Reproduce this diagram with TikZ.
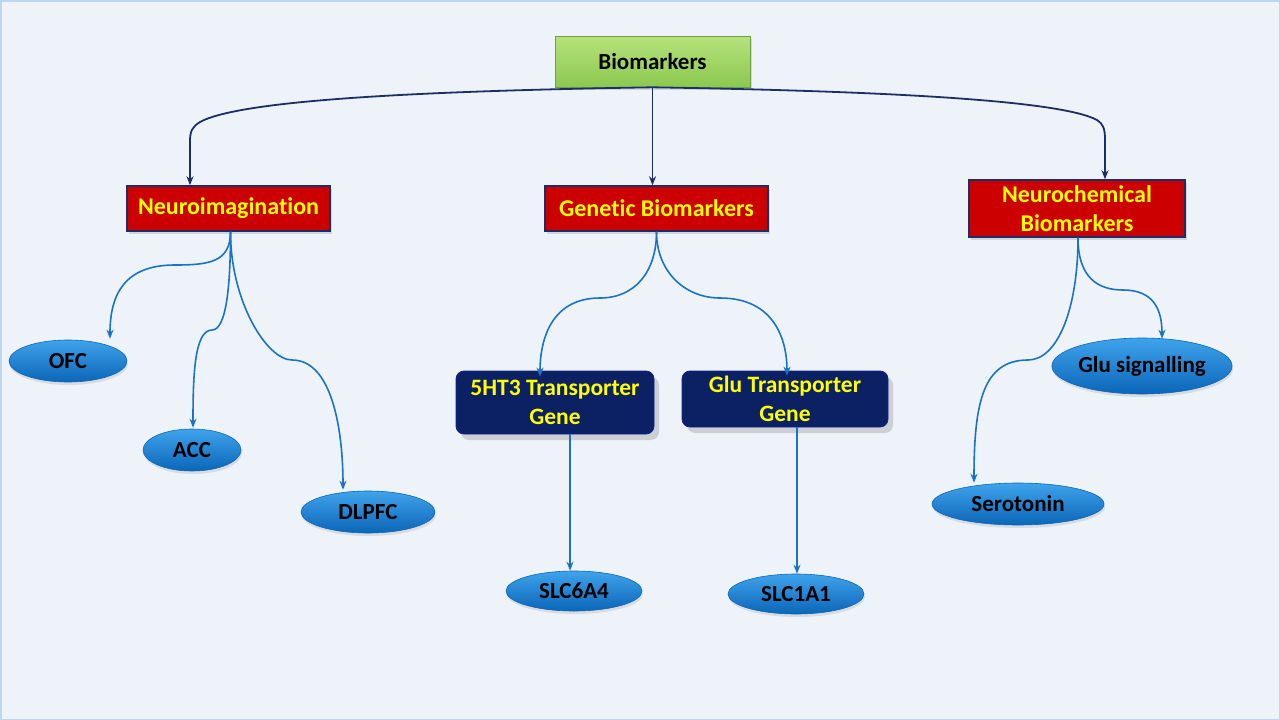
\documentclass[tikz,border=0pt]{standalone}
\usepackage{fontspec}
\setmainfont{Carlito}[Ligatures=NoCommon]
\usetikzlibrary{arrows.meta,shadows,shapes.geometric}
\definecolor{bgc}{HTML}{EEF3FA}
\definecolor{bgborder}{HTML}{BCD6F0}
\definecolor{navyline}{HTML}{1B2F66}
\definecolor{blueline}{HTML}{1A73C4}
\definecolor{redfill}{HTML}{CC0000}
\definecolor{navyfill}{HTML}{0B2163}
\definecolor{yel}{HTML}{FFFF00}
\definecolor{greentop}{HTML}{B6E27C}
\definecolor{greenbot}{HTML}{8CC850}
\definecolor{elltop}{HTML}{3FA3EC}
\definecolor{ellbot}{HTML}{0B66B8}
\tikzset{
  rootbox/.style={draw=greenbot!80!black, line width=0.6pt, top color=greentop, bottom color=greenbot,
    minimum width=195pt, minimum height=51pt, inner sep=0pt, font=\fontsize{23}{25}\selectfont\bfseries,
    drop shadow={opacity=0.25, shadow xshift=2pt, shadow yshift=-3pt}},
  redbox/.style={draw=navyline, line width=1.5pt, fill=redfill, text=yel, inner sep=0pt,
    font=\fontsize{24}{29}\selectfont\bfseries, align=center,
    drop shadow={opacity=0.25, shadow xshift=2pt, shadow yshift=-3pt}},
  navybox/.style={draw=navyline!70!blue, line width=0.8pt, fill=navyfill, text=yel, inner sep=0pt,
    rounded corners=8pt, font=\fontsize{23.5}{29}\selectfont\bfseries, align=center,
    drop shadow={opacity=0.3, shadow xshift=5pt, shadow yshift=-6pt}},
  leaf/.style={ellipse, draw=ellbot, line width=0.6pt, top color=elltop, bottom color=ellbot,
    inner sep=0pt, font=\fontsize{23}{25}\selectfont\bfseries, text=black,
    drop shadow={opacity=0.2, shadow xshift=1pt, shadow yshift=-3pt}},
  toparr/.style={draw=navyline, line width=1.8pt, -{Stealth[length=9pt,width=7pt]}},
  subarr/.style={draw=blueline, line width=1.6pt, -{Stealth[length=9pt,width=7pt]}},
}
\begin{document}
\begin{tikzpicture}[x=1pt,y=-1pt]
\useasboundingbox (0,0) rectangle (1280,720);
\fill[bgc] (0,0) rectangle (1280,720);
\draw[bgborder, line width=1.5pt] (0.75,0.75) rectangle (1279.25,719.25);

\node[rootbox] (bio) at (652.5,61.5) {Biomarkers};
\node[redbox, minimum width=203pt, minimum height=45pt] (neuro) at (228.5,208.5) {Neuroimagination};
\node[redbox, minimum width=223pt, minimum height=45pt] (gen) at (656.5,208.5) {Genetic Biomarkers};
\node[redbox, minimum width=216pt, minimum height=57pt] (chem) at (1077,208.5) {Neurochemical\\Biomarkers};

\node[navybox, minimum width=198pt, minimum height=63pt] (ht3) at (555,402.5) {5HT3 Transporter\\Gene};
\node[navybox, minimum width=206pt, minimum height=56pt] (glut) at (785,399) {Glu Transporter\\Gene};

\node[leaf, minimum width=118pt, minimum height=42pt] (ofc) at (68,361) {OFC};
\node[leaf, minimum width=98pt, minimum height=42pt] (acc) at (192,450) {ACC};
\node[leaf, minimum width=134pt, minimum height=42pt] (dlpfc) at (368,512) {DLPFC};
\node[leaf, minimum width=136pt, minimum height=40pt] (slc6) at (574,591) {SLC6A4};
\node[leaf, minimum width=136pt, minimum height=40pt] (slc1) at (796,594) {SLC1A1};
\node[leaf, minimum width=176pt, minimum height=56pt] (glus) at (1142,366) {Glu signalling};
\node[leaf, minimum width=172pt, minimum height=42pt] (sero) at (1018,504) {Serotonin};

% top level connectors
\draw[toparr] (bio.south) .. controls (420,91) and (240,100) .. (200,122) .. controls (192,127) and (190,131) .. (190,142) -- ([xshift=-38.5pt]neuro.north);
\draw[toparr] (bio.south) -- (bio.south |- gen.north);
\draw[toparr] (bio.south) .. controls (880,91) and (1060,100) .. (1097,120) .. controls (1103,124) and (1105,128) .. (1105,140) -- ([xshift=28pt]chem.north);

% neuroimagination children
\coordinate (nb) at ([xshift=2pt]neuro.south);
\draw[subarr] (nb) .. controls +(0,30) and +(35,0) .. (175,265) .. controls +(-50,0) and +(0,-45) .. ([xshift=42pt,yshift=1pt]ofc.north);
\draw[subarr] (nb) .. controls +(0,50) and +(15,0) .. (212,330) .. controls +(-18,0) and +(0,-50) .. ([xshift=1pt,yshift=1pt]acc.north);
\draw[subarr] (nb) .. controls +(0,70) and +(-25,0) .. (292,360) .. controls +(40,0) and +(0,-60) .. ([xshift=-25pt,yshift=1pt]dlpfc.north);

% genetic children
\coordinate (gb) at (gen.south);
\draw[subarr] (gb) .. controls +(0,40) and +(35,0) .. (600,298) .. controls +(-50,0) and +(0,-35) .. ([xshift=-15pt,yshift=-6pt]ht3.north);
\draw[subarr] (gb) .. controls +(0,40) and +(-35,0) .. (720,298) .. controls +(55,0) and +(0,-35) .. ([xshift=2pt,yshift=-5pt]glut.north);
\draw[subarr] ([xshift=15pt]ht3.south) -- ([xshift=15pt]ht3.south |- slc6.north);
\draw[subarr] ([xshift=12pt]glut.south) -- ([xshift=12pt]glut.south |- slc1.north);

% neurochemical children
\coordinate (cb) at ([xshift=1pt]chem.south);
\draw[subarr] (cb) .. controls +(0,40) and +(-25,0) .. (1123,290) .. controls +(30,0) and +(0,-30) .. ([xshift=20pt,yshift=-1pt]glus.north);
\draw[subarr] (cb) .. controls +(0,70) and +(30,0) .. (1028,360) .. controls +(-45,0) and +(0,-80) .. ([xshift=-44pt,yshift=0pt]sero.north);
\end{tikzpicture}
\end{document}
